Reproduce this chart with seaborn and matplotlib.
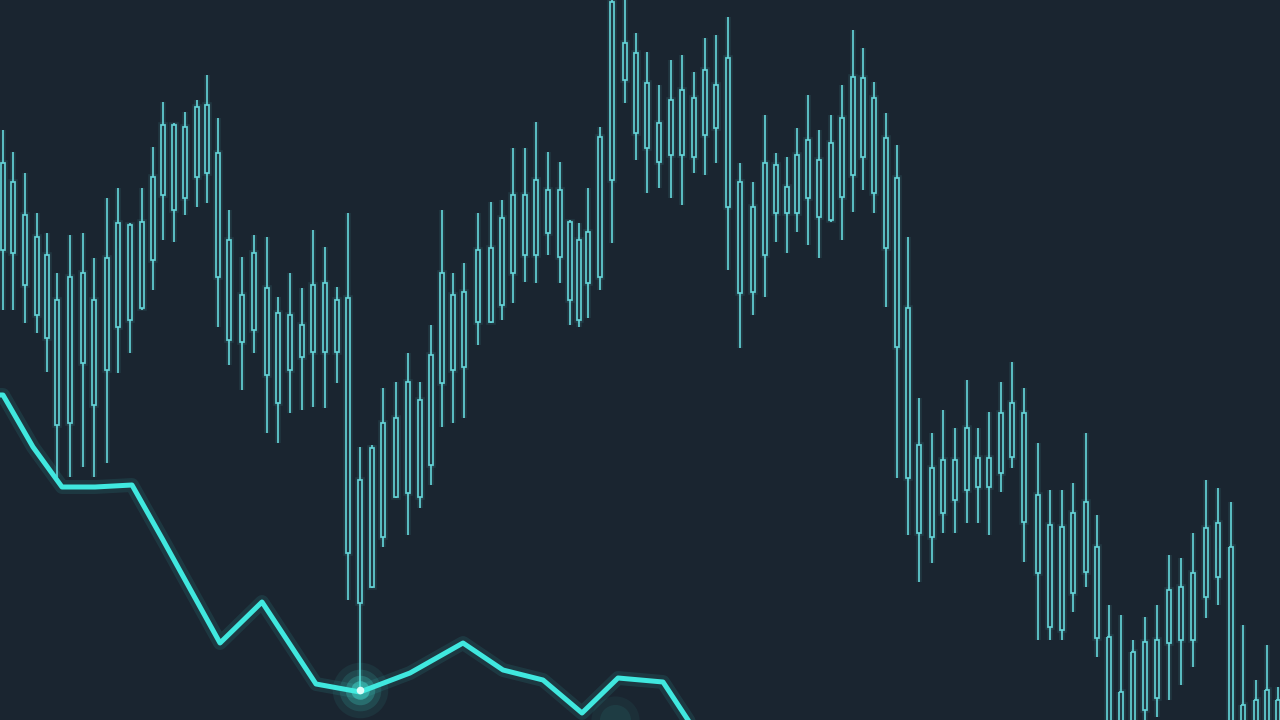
import numpy as np
import pandas as pd
import matplotlib
matplotlib.use("Agg")
import matplotlib.pyplot as plt
import seaborn as sns

# ---- candle data (chart units measured from the top edge, axis inverted) ----
candle_x = [3, 13, 25, 37, 47, 57, 70, 83, 94, 107, 118, 130, 142, 153, 163, 174, 185, 197, 207,
            218, 229, 242, 254, 267, 278, 290, 302, 313, 325, 337, 348,
            360, 372, 383, 396, 408, 420, 431, 442, 453, 464, 478, 491, 502, 513, 525, 536, 548,
            560, 570, 579, 588, 600,
            612, 625, 636, 647, 659, 671, 682, 694, 705, 716, 728, 740, 753, 765, 776, 787, 797,
            808, 819, 831, 842, 853, 863, 874, 886, 897,
            908, 919, 932, 943, 955, 967, 978, 989, 1001, 1012, 1024, 1038, 1050, 1062, 1073, 1086,
            1097, 1109, 1121, 1133, 1145, 1157, 1169, 1181, 1193, 1206, 1218, 1231, 1243, 1256, 1267, 1278]
wick_top = [130, 152, 173, 213, 233, 273, 235, 233, 258, 198, 188, 223, 188, 147, 102, 123, 112, 100, 75,
            118, 210, 257, 235, 237, 297, 273, 288, 230, 247, 287, 213,
            447, 445, 388, 382, 353, 382, 325, 210, 273, 263, 213, 202, 200, 148, 148, 122, 152,
            162, 220, 223, 188, 127,
            0, 0, 33, 52, 85, 60, 55, 72, 38, 35, 17, 163, 182, 115, 153, 157, 128,
            95, 130, 115, 85, 30, 48, 82, 113, 145,
            237, 398, 433, 410, 428, 380, 428, 412, 382, 362, 388, 443, 490, 490, 483, 433,
            515, 605, 615, 640, 617, 605, 555, 558, 533, 480, 488, 502, 625, 680, 645, 687]
body_top = [163, 182, 215, 237, 255, 300, 277, 273, 300, 258, 223, 225, 222, 177, 125, 125, 127, 107, 105,
            153, 240, 295, 253, 288, 313, 315, 325, 285, 283, 300, 298,
            480, 448, 423, 418, 382, 400, 355, 273, 295, 292, 250, 248, 218, 195, 195, 180, 190,
            190, 222, 240, 232, 137,
            2, 43, 53, 83, 123, 100, 90, 98, 70, 85, 58, 182, 207, 163, 165, 187, 155,
            140, 160, 143, 118, 77, 78, 98, 138, 178,
            308, 445, 468, 460, 460, 428, 458, 458, 413, 403, 413, 495, 525, 527, 513, 502,
            547, 637, 692, 652, 642, 640, 590, 587, 573, 528, 523, 547, 705, 700, 690, 700]
body_bottom = [250, 253, 285, 315, 338, 425, 423, 363, 405, 370, 327, 320, 308, 260, 195, 210, 198, 177, 173,
               277, 340, 342, 330, 375, 403, 370, 357, 352, 352, 352, 553,
               603, 587, 537, 497, 493, 497, 465, 383, 370, 367, 322, 322, 305, 273, 255, 255, 233,
               257, 300, 320, 283, 277,
               180, 80, 133, 148, 162, 155, 155, 157, 135, 128, 207, 293, 292, 255, 213, 213, 213,
               198, 217, 220, 197, 175, 157, 193, 248, 347,
               478, 533, 537, 513, 500, 490, 487, 487, 473, 457, 522, 573, 627, 630, 593, 572,
               638, 730, 730, 730, 710, 698, 643, 640, 640, 597, 577, 730, 730, 730, 730, 730]
wick_bottom = [310, 310, 323, 333, 372, 477, 477, 467, 477, 463, 373, 353, 310, 290, 240, 242, 215, 207, 203,
               327, 365, 390, 353, 433, 443, 413, 410, 407, 408, 383, 600,
               690, 588, 547, 498, 535, 508, 485, 427, 423, 418, 345, 323, 320, 303, 282, 283, 255,
               283, 325, 327, 318, 290,
               243, 103, 160, 193, 188, 198, 205, 173, 175, 163, 270, 348, 315, 297, 242, 253, 232,
               245, 258, 222, 240, 212, 190, 213, 307, 478,
               535, 582, 563, 533, 533, 523, 523, 535, 492, 468, 562, 640, 640, 640, 612, 587,
               657, 730, 730, 730, 730, 717, 700, 685, 667, 618, 605, 730, 730, 730, 730, 730]

# ---- indicator line ----
line_x = [0, 3, 33, 62, 95, 132, 163, 220, 262, 316, 360, 410, 463, 503, 543, 582, 618, 663, 688, 700]
line_y = [395, 395, 447, 487, 487, 485, 540, 643, 602, 684, 692, 673, 643, 670, 680, 713, 678, 682, 720, 740]

# ---- glow highlights ----
glow_x = [360]
glow_y = [690]
soft_glow_x = [615]
soft_glow_y = [720]

BG = "#1a2530"
CANDLE = "#66d8dc"
LINE = "#40e8df"
GLOW = "#45f0e0"

sns.set_theme(style="dark", rc={"axes.facecolor": BG, "figure.facecolor": BG})

fig = plt.figure(figsize=(12.8, 7.2), dpi=100)
ax = fig.add_axes([0, 0, 1, 1])
ax.set_facecolor(BG)

cx = np.array(candle_x, dtype=float)
wt = np.array(wick_top, dtype=float)
bt = np.array(body_top, dtype=float)
bb = np.array(body_bottom, dtype=float)
wb = np.array(wick_bottom, dtype=float)

# glow pass then crisp pass
for lw, alpha in [(4.0, 0.10), (1.25, 0.95)]:
    ax.vlines(cx, wt, bt, color=CANDLE, lw=lw, alpha=alpha, zorder=2)
    ax.vlines(cx, bb, wb, color=CANDLE, lw=lw, alpha=alpha, zorder=2)
    ax.bar(cx, bb - bt, bottom=bt, width=4.0, fill=False, edgecolor=CANDLE,
           linewidth=lw, alpha=alpha, zorder=3)

# soft glint under the line near the bottom edge
for s, a in [(1200, 0.05), (500, 0.07)]:
    ax.scatter(soft_glow_x, soft_glow_y, s=s, color=GLOW, alpha=a, lw=0, zorder=3)

df = pd.DataFrame({"x": line_x, "y": line_y})
sns.lineplot(data=df, x="x", y="y", ax=ax, sort=False, color=LINE, lw=10, alpha=0.10, zorder=4)
sns.lineplot(data=df, x="x", y="y", ax=ax, sort=False, color=LINE, lw=3.6, alpha=1.0, zorder=5)

# glowing point
for s, a in [(1600, 0.07), (900, 0.12), (450, 0.22), (180, 0.40)]:
    ax.scatter(glow_x, glow_y, s=s, color=GLOW, alpha=a, lw=0, zorder=6)
ax.scatter(glow_x, glow_y, s=30, color="#e8fffc", alpha=0.95, lw=0, zorder=7)

ax.set_xlim(0, 1280)
ax.set_ylim(720, 0)
ax.set_axis_off()

fig.savefig("out.png", dpi=100, facecolor=BG)
